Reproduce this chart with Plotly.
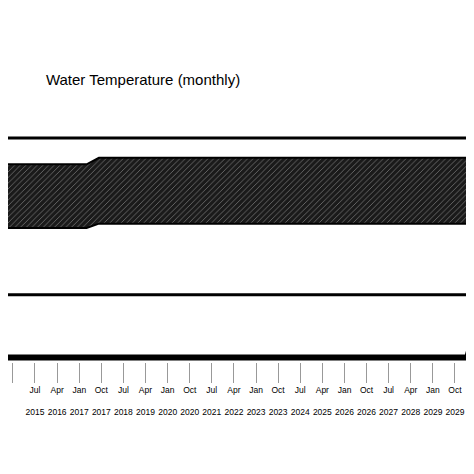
import plotly.graph_objects as go

# band (hatched) edges
band_dates = ["2014-08-01", "2017-04-01", "2017-09-01", "2030-03-01", "2030-09-01"]
band_upper = [8.8, 8.8, 9.1, 9.1, 9.1]
band_lower = [5.9, 5.9, 6.1, 6.1, 9.1]

# lower reference line
line_dates = ["2014-08-01", "2030-05-01", "2030-09-01"]
line_vals = [2.86, 2.86, 10.0]

# base line
base_dates = ["2014-08-01", "2030-03-01", "2030-06-01"]
base_vals = [0.0, 0.0, 1.2]

fig = go.Figure()
fig.add_trace(go.Scatter(x=band_dates, y=band_lower, mode="lines",
                         line=dict(color="black", width=2), showlegend=False))
fig.add_trace(go.Scatter(x=band_dates, y=band_upper, mode="lines", fill="tonexty",
                         fillcolor="#1a1a1a",
                         fillpattern=dict(shape="/", fgcolor="#cfcfcf", bgcolor="#1a1a1a",
                                          size=4, solidity=0.2),
                         line=dict(color="black", width=2), showlegend=False))
fig.add_trace(go.Scatter(x=line_dates, y=line_vals, mode="lines",
                         line=dict(color="black", width=3), showlegend=False))
fig.add_trace(go.Scatter(x=base_dates, y=base_vals, mode="lines",
                         line=dict(color="black", width=6), showlegend=False))

fig.update_layout(
    width=474, height=474,
    margin=dict(l=0, r=0, t=130, b=120),
    paper_bgcolor="white", plot_bgcolor="white",
    font=dict(family="Liberation Sans", color="black", size=9),
    title=dict(text="Water Temperature (monthly)", x=0.08, xanchor="left", y=0.86,
               font=dict(size=15)),
    xaxis=dict(type="date", range=["2014-08-01", "2030-09-01"],
               tick0="2014-10-01", dtick="M9", tickformat="%b<br><br>%Y",
               tickangle=0, tickfont=dict(size=8.5),
               ticks="outside", ticklen=20, tickcolor="#999", showgrid=False,
               zeroline=False, showline=False),
    yaxis=dict(range=[-0.2, 10], visible=False),
    shapes=[dict(type="line", xref="paper", yref="paper", x0=0, x1=1, y0=1, y1=1,
                 line=dict(color="black", width=3))],
)
fig.write_html("out.html")
